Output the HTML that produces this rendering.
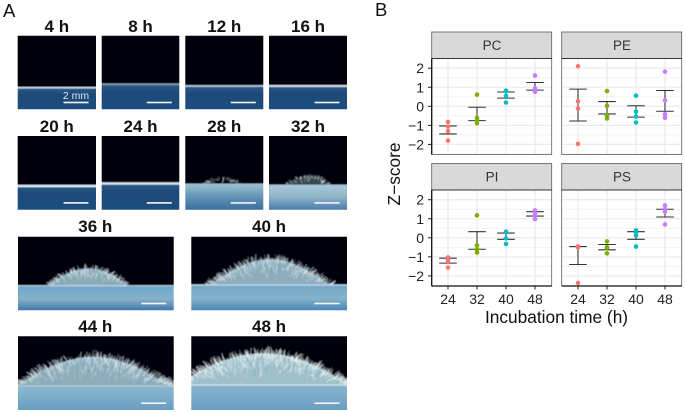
<!DOCTYPE html>
<html lang="en">
<head>
<meta charset="utf-8">
<title>Colony growth and lipid Z-scores</title>
<style>
html,body{margin:0;padding:0;background:#fff;width:685px;height:412px;overflow:hidden}
svg{position:absolute;left:0;top:0;display:block}
text{font-family:"Liberation Sans",Arial,sans-serif}
.ptitle{font-size:17px;font-weight:bold;fill:#111;text-anchor:middle}
.plabel{font-size:18.5px;fill:#111}
</style>
</head>
<body>
<svg id="fig" width="685" height="412" viewBox="0 0 685 412">
  <defs>
    <filter id="soft" x="-5%" y="-5%" width="110%" height="110%"><feGaussianBlur stdDeviation="0.5"/></filter>
    <linearGradient id="agar-dark" x1="0" y1="0" x2="0" y2="1"><stop offset="0" stop-color="#2a5c8c"/><stop offset="0.3" stop-color="#1e4a78"/><stop offset="1" stop-color="#204f80"/></linearGradient>
    <linearGradient id="agar-28" x1="0" y1="0" x2="0" y2="1"><stop offset="0" stop-color="#a0c2d3"/><stop offset="0.35" stop-color="#6f9dbc"/><stop offset="1" stop-color="#336799"/></linearGradient>
    <linearGradient id="agar-32" x1="0" y1="0" x2="0" y2="1"><stop offset="0" stop-color="#a9c9d7"/><stop offset="0.45" stop-color="#8db3c8"/><stop offset="1" stop-color="#3f75a8"/></linearGradient>
    <linearGradient id="agar-36" x1="0" y1="0" x2="0" y2="1"><stop offset="0" stop-color="#6ea6cd"/><stop offset="0.5" stop-color="#86b1c9"/><stop offset="1" stop-color="#356ea6"/></linearGradient>
    <linearGradient id="agar-40" x1="0" y1="0" x2="0" y2="1"><stop offset="0" stop-color="#73a9ca"/><stop offset="0.5" stop-color="#85b2cb"/><stop offset="1" stop-color="#407fb4"/></linearGradient>
    <linearGradient id="agar-44" x1="0" y1="0" x2="0" y2="1"><stop offset="0" stop-color="#8cb9d0"/><stop offset="1" stop-color="#659bc0"/></linearGradient>
    <linearGradient id="agar-48" x1="0" y1="0" x2="0" y2="1"><stop offset="0" stop-color="#8ab6cf"/><stop offset="1" stop-color="#669cc2"/></linearGradient>
  </defs>

  <text class="plabel" x="3" y="17">A</text>
  <text class="plabel" x="375" y="16">B</text>

  <g id="photos"></g>

  <text class="ptitle" x="56.8" y="32">4 h</text>
  <text class="ptitle" x="140.5" y="32">8 h</text>
  <text class="ptitle" x="224.3" y="32">12 h</text>
  <text class="ptitle" x="308" y="32">16 h</text>
  <text class="ptitle" x="56.8" y="132">20 h</text>
  <text class="ptitle" x="140.5" y="132">24 h</text>
  <text class="ptitle" x="224.3" y="132">28 h</text>
  <text class="ptitle" x="308" y="132">32 h</text>
  <text class="ptitle" x="95.3" y="232">36 h</text>
  <text class="ptitle" x="269" y="232">40 h</text>
  <text class="ptitle" x="95.3" y="332">44 h</text>
  <text class="ptitle" x="269" y="332">48 h</text>
  <text x="76" y="99" font-size="10.5" fill="#e4e8ee" text-anchor="middle">2 mm</text>

  <g id="chart"></g>
  <text x="556.5" y="323" font-size="17.3" fill="#111" text-anchor="middle">Incubation time (h)</text>
  <text transform="translate(400,174) rotate(-90)" font-size="17.3" fill="#111" text-anchor="middle">Z−score</text>
</svg>

<script>
/* ---------- chart data ---------- */
const categories = [24, 32, 40, 48];
const yTickValues = [2, 1, 0, -1, -2];
const yMinorValues = [2.5, 1.5, 0.5, -0.5, -1.5, -2.5];
const seriesColors = ['#F8766D', '#7CAE00', '#00BFC4', '#C77CFF'];

const pcPoints = [[-0.82, -1.07, -1.3, -1.8], [0.61, -0.61, -0.73, -0.89], [0.82, 0.8, 0.55, 0.2], [1.62, 0.94, 0.87, 0.76]];
const pcUpper = [-1.03, -0.05, 0.75, 1.25];
const pcLower = [-1.45, -0.75, 0.43, 0.85];

const pePoints = [[2.1, 0.26, -0.12, -1.97], [0.8, 0.02, -0.49, -0.64], [0.56, -0.28, -0.54, -0.85], [1.82, 0.31, -0.42, -0.6]];
const peUpper = [0.9, 0.25, 0.03, 0.83];
const peLower = [-0.77, -0.4, -0.57, -0.26];

const piPoints = [[-1.03, -1.12, -1.23, -1.56], [1.18, -0.4, -0.6, -0.77], [0.32, -0.03, -0.32], [1.44, 1.3, 1.16, 0.98]];
const piUpper = [-1.07, 0.32, 0.25, 1.37];
const piLower = [-1.33, -0.6, -0.08, 1.14];

const psPoints = [[-0.45, -0.49, -0.5, -2.37], [-0.19, -0.49, -0.53, -0.82], [0.39, 0.28, 0.12, -0.46], [1.7, 1.5, 1.37, 0.7]];
const psUpper = [-0.46, -0.35, 0.32, 1.5];
const psLower = [-1.4, -0.63, -0.08, 1.09];

const NS = 'http://www.w3.org/2000/svg';
function mk(tag, attrs, parent) {
  const n = document.createElementNS(NS, tag);
  for (const k in attrs) n.setAttribute(k, attrs[k]);
  parent.appendChild(n);
  return n;
}

/* ---------- photos (texture only, not data) ---------- */
const photosRoot = document.getElementById('photos');
function hash(i, s) { const v = Math.sin(i * 12.9898 + s * 78.233) * 43758.5453; return v - Math.floor(v); }

const photoDefs = [
  {n:'4h', x:17.7,y:35.7,w:78.3,h:73.6,line:87.7,agar:'agar-dark',lc:'#dfeaf5',lw:1.4},
  {n:'8h', x:101.7,y:35.7,w:77.6,h:73.6,line:84.3,agar:'agar-dark',lc:'#7f9fae',lw:1.5},
  {n:'12h',x:185.3,y:35.7,w:78,h:73.6,line:86,agar:'agar-dark',lc:'#c8dcea',lw:1.6},
  {n:'16h',x:269,y:35.7,w:78,h:73.6,line:86,agar:'agar-dark',lc:'#e6f0f6',lw:1.8},
  {n:'20h',x:17.7,y:136,w:78.3,h:73.7,line:186,agar:'agar-dark',lc:'#e6f0f6',lw:2.2},
  {n:'24h',x:101.7,y:136,w:77.6,h:73.7,line:183.5,agar:'agar-dark',lc:'#dbe8f0',lw:2.2},
  {n:'28h',x:185.3,y:136,w:78,h:73.7,line:184,agar:'agar-28',lc:'#a9c8d8',lw:0.8,m:{cx:222,hw:17,ht:7,k:34,pw:0.8,fill:0}},
  {n:'32h',x:269,y:136,w:78,h:73.7,line:185,agar:'agar-32',lc:'#a9c8d8',lw:0.8,m:{cx:308,hw:20,ht:12,k:60,pw:0.8,fill:0.35}},
  {n:'36h',x:18,y:236.7,w:155.7,h:73.6,line:285.7,agar:'agar-36',lc:'#cfe3ee',lw:0.9,m:{cx:88,hw:38,ht:22,k:260,pw:0.9,fill:0.9}},
  {n:'40h',x:191.3,y:236.7,w:155.7,h:73.6,line:285,agar:'agar-40',lc:'#cfe3ee',lw:0.9,m:{cx:270,hw:62,ht:33,k:460,pw:1.3,fill:0.92}},
  {n:'44h',x:18,y:336.3,w:155.7,h:73.7,line:386,agar:'agar-44',lc:'#c6dae4',lw:0.8,m:{cx:93,hw:80,ht:37,k:620,pw:1.25,fill:0.92}},
  {n:'48h',x:191.3,y:336.3,w:155.7,h:73.7,line:385,agar:'agar-48',lc:'#dfeef2',lw:0.9,m:{cx:263,hw:86,ht:40,k:760,pw:1.05,fill:0.95,bright:true}}
];

photoDefs.forEach(function (p, pi) {
  const clip = mk('clipPath', {id: 'clip-' + p.n}, document.querySelector('#fig defs'));
  mk('rect', {x: p.x, y: p.y, width: p.w, height: p.h}, clip);
  const outer = mk('g', {'clip-path': 'url(#clip-' + p.n + ')'}, photosRoot);
  
  
  const g = mk('g', {filter: 'url(#soft)'}, outer);
  mk('rect', {x: p.x - 2, y: p.y - 2, width: p.w + 4, height: p.line - p.y + 2, fill: '#02060e'}, g);
  mk('rect', {x: p.x - 2, y: p.line, width: p.w + 4, height: p.y + p.h - p.line + 2, fill: 'url(#' + p.agar + ')'}, g);
  if (p.m) {
    const m = p.m, base = p.line + 0.5;
    let d = 'M' + (m.cx - m.hw) + ' ' + base;
    for (let i = 0; i <= 40; i++) {
      const t = -1 + i / 20;
      d += ' L' + (m.cx + t * m.hw).toFixed(1) + ' ' + (base - Math.pow(1 - t * t, m.pw) * m.ht * 0.8).toFixed(1);
    }
    d += ' Z';
    mk('path', {d: d, fill: m.bright ? '#a8cad6' : '#9abccb', opacity: m.fill}, g);
    for (let i = 0; i < m.k; i++) {
      const t = -1 + 2 * hash(i, pi + 1);
      const top = Math.pow(1 - t * t, m.pw) * m.ht * 0.8;
      const r = 0.2 + 0.8 * Math.sqrt(hash(i, pi + 7));
      const bx = m.cx + t * m.hw, by = base - top * r;
      const len = 2 + (m.ht * 0.16) * hash(i, pi + 13);
      const ang = -Math.PI / 2 + t * 1.0 + (hash(i, pi + 19) - 0.5) * 0.7;
      const o = 0.3 + 0.6 * hash(i, pi + 23);
      const dark = (i % 5 === 0) && r < 0.8 && m.fill > 0.5;
      mk('line', {x1: bx.toFixed(1), y1: by.toFixed(1), x2: (bx + Math.cos(ang) * len).toFixed(1), y2: (by + Math.sin(ang) * len).toFixed(1),
        stroke: dark ? '#6d95aa' : (m.bright ? '#eef9f8' : '#d9e9ee'), 'stroke-width': 0.6, opacity: o.toFixed(2)}, g);
    }
  }
  mk('line', {x1: p.x - 2, x2: p.x + p.w + 2, y1: p.line, y2: p.line, stroke: p.lc, 'stroke-width': p.lw}, g);
  const barRight = p.x + p.w - 7.5;
  const bar = mk('rect', {x: barRight - 25, y: p.y + p.h - 7.6, width: 25, height: 1.6, fill: '#f4f6f8'}, outer);
  
  
});

/* ---------- chart ---------- */
const chartRoot = document.getElementById('chart');
const panelWidth = 120, panelHeight = 96, stripHeight = 26.5, unitPx = 19.05;

function drawPanel(name, points, upper, lower, left, top, showY, showX) {
  const panelTop = top + stripHeight;
  const zeroY = panelTop + panelHeight / 2 - 0.2;
  const xScale = function (idx) { return left + 16.3 + idx * 29; };
  const yScale = function (v) { return zeroY - v * unitPx; };
  const g = mk('g', {}, chartRoot);
  
  

  const strip = mk('rect', {x: left, y: top, width: panelWidth, height: stripHeight, fill: '#d9d9d9', stroke: '#5a5a5a', 'stroke-width': 0.8}, g);
  
  
  const stripLabel = mk('text', {x: left + panelWidth / 2 + 0.3, y: top + 18, 'font-size': 13.5, fill: '#333', 'text-anchor': 'middle'}, g);
  stripLabel.textContent = name;
  
  

  mk('rect', {x: left, y: panelTop, width: panelWidth, height: panelHeight, fill: '#fff'}, g);
  yMinorValues.forEach(function (v) {
    const l = mk('line', {x1: left, x2: left + panelWidth, y1: yScale(v), y2: yScale(v), stroke: '#efefef', 'stroke-width': 0.7}, g);
    
    
  });
  yTickValues.forEach(function (v) {
    const l = mk('line', {x1: left, x2: left + panelWidth, y1: yScale(v), y2: yScale(v), stroke: '#ebebeb', 'stroke-width': 1.3}, g);
    
    
  });
  categories.forEach(function (c, i) {
    const l = mk('line', {x1: xScale(i), x2: xScale(i), y1: panelTop, y2: panelTop + panelHeight, stroke: '#ebebeb', 'stroke-width': 1.3}, g);
    
    
  });

  categories.forEach(function (c, i) {
    const e = mk('path', {
      d: 'M' + (xScale(i) - 8.8) + ' ' + yScale(upper[i]) + ' H' + (xScale(i) + 8.8) +
         ' M' + xScale(i) + ' ' + yScale(upper[i]) + ' V' + yScale(lower[i]) +
         ' M' + (xScale(i) - 8.8) + ' ' + yScale(lower[i]) + ' H' + (xScale(i) + 8.8),
      fill: 'none', stroke: '#333', 'stroke-width': 1.05}, g);
    
    
  });
  points.forEach(function (vals, i) {
    vals.forEach(function (v) {
      const c = mk('circle', {cx: xScale(i), cy: yScale(v), r: 2.3, fill: seriesColors[i]}, g);
      
      
    });
  });

  mk('rect', {x: left, y: panelTop, width: panelWidth, height: panelHeight, fill: 'none', stroke: '#5a5a5a', 'stroke-width': 0.8}, g);
  mk('line', {x1: left, x2: left + panelWidth, y1: panelTop, y2: panelTop, stroke: '#333', 'stroke-width': 1}, g);

  if (showY) {
    const axisLine = mk('line', {x1: left, x2: left, y1: panelTop, y2: panelTop + panelHeight, stroke: '#111', 'stroke-width': 1.3}, g);
    
    
    yTickValues.forEach(function (v) {
      const t = mk('line', {x1: left - 3.8, x2: left, y1: yScale(v), y2: yScale(v), stroke: '#222', 'stroke-width': 1}, g);
      
      
      const lab = mk('text', {x: left - 7.6, y: yScale(v) + 5, 'font-size': 14, fill: '#222', 'text-anchor': 'end'}, g);
      lab.textContent = (v < 0 ? '\u2212' + (-v) : String(v));
      
      
    });
  }
  if (showX) {
    const axisLine = mk('line', {x1: left, x2: left + panelWidth, y1: panelTop + panelHeight, y2: panelTop + panelHeight, stroke: '#111', 'stroke-width': 1.3}, g);
    
    
    categories.forEach(function (c, i) {
      const t = mk('line', {x1: xScale(i), x2: xScale(i), y1: panelTop + panelHeight, y2: panelTop + panelHeight + 3.5, stroke: '#222', 'stroke-width': 1}, g);
      
      
      const lab = mk('text', {x: xScale(i), y: panelTop + panelHeight + 18, 'font-size': 14, fill: '#222', 'text-anchor': 'middle'}, g);
      lab.textContent = String(c);
      
      
    });
  }
}

drawPanel('PC', pcPoints, pcUpper, pcLower, 431.7, 32, true, false);
drawPanel('PE', pePoints, peUpper, peLower, 561.7, 32, false, false);
drawPanel('PI', piPoints, piUpper, piLower, 431.7, 163.5, true, true);
drawPanel('PS', psPoints, psUpper, psLower, 561.7, 163.5, false, true);
</script>
</body>
</html>
